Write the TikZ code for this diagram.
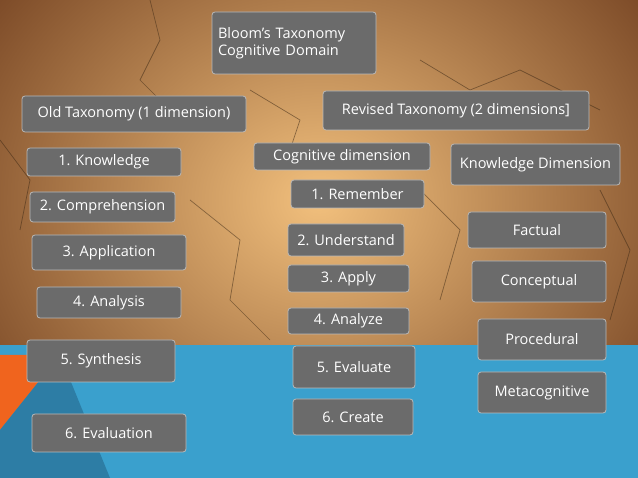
\documentclass[tikz,border=0pt]{standalone}
\usepackage{fontspec}
\setmainfont{Open Sans}
\begin{document}
\begin{tikzpicture}[x=1pt,y=-1pt,
  box/.style={draw=gray!55, line width=0.8pt, fill=black!58, rounded corners=3pt, text=white, font=\fontsize{14.5}{17}\selectfont, inner sep=2pt, align=center},
  crack/.style={draw=black!70!brown, line width=0.7pt, opacity=0.5}]
\definecolor{edge}{RGB}{125,75,40}
\definecolor{mid}{RGB}{242,192,125}
\useasboundingbox (0,0) rectangle (638,478);
% background
\begin{scope}
\clip (0,0) rectangle (638,345);
\shade[inner color=mid, outer color=edge] (-80,-140) rectangle (718,540);
\end{scope}
\fill[color={rgb,255:red,58;green,160;blue,205}] (0,345) rectangle (638,478);
\fill[color={rgb,255:red,240;green,100;blue,30}] (0,355) -- (60,355) -- (0,430) -- cycle;
\fill[color={rgb,255:red,45;green,125;blue,165}] (0,478) -- (0,430) -- (60,355) -- (110,478) -- cycle;
% cracks
\draw[crack] (150,0) -- (160,40) -- (140,80) -- (170,110);
\draw[crack] (250,90) -- (300,120) -- (290,150);
\draw[crack] (420,60) -- (470,90) -- (520,70) -- (600,110);
\draw[crack] (0,140) -- (30,180) -- (20,230);
\draw[crack] (190,200) -- (240,240) -- (230,300) -- (270,340);
\draw[crack] (420,190) -- (460,230) -- (440,300);
\draw[crack] (600,190) -- (630,250) -- (610,320);
% boxes
\node[box, align=left, minimum width=164, minimum height=62, text width=152] (bloom) at (294,43) {Bloom's Taxonomy\\Cognitive Domain};
\node[box, minimum width=224, minimum height=36] (old) at (134,114) {Old Taxonomy (1 dimension)};
\node[box, minimum width=266, minimum height=39] (rev) at (456,110.5) {Revised Taxonomy (2 dimensions]};
\node[box, minimum width=154, minimum height=28] (o1) at (104,162) {1. Knowledge};
\node[box, minimum width=145, minimum height=30] (o2) at (102.5,207) {2. Comprehension};
\node[box, minimum width=154, minimum height=35] (o3) at (109,252.5) {3. Application};
\node[box, minimum width=144, minimum height=31] (o4) at (109,302.5) {4. Analysis};
\node[box, minimum width=148, minimum height=42] (o5) at (101,361) {5. Synthesis};
\node[box, minimum width=154, minimum height=38] (o6) at (109,433) {6. Evaluation};
\node[box, minimum width=176, minimum height=27] (cog) at (342,156.5) {Cognitive dimension};
\node[box, minimum width=169, minimum height=41] (kd) at (535.5,164.5) {Knowledge Dimension};
\node[box, minimum width=133, minimum height=28] (r1) at (357.5,194) {1. Remember};
\node[box, minimum width=116, minimum height=32] (r2) at (346,240) {2. Understand};
\node[box, minimum width=121, minimum height=27] (r3) at (348.5,278.5) {3. Apply};
\node[box, minimum width=121, minimum height=26] (r4) at (348.5,321) {4. Analyze};
\node[box, minimum width=122, minimum height=42] (r5) at (354,367) {5. Evaluate};
\node[box, minimum width=120, minimum height=36] (r6) at (353,417) {6. Create};
\node[box, minimum width=138, minimum height=36] (k1) at (537,230) {Factual};
\node[box, minimum width=134, minimum height=41] (k2) at (539,281.5) {Conceptual};
\node[box, minimum width=128, minimum height=41] (k3) at (542,339.5) {Procedural};
\node[box, minimum width=128, minimum height=41] (k4) at (542,392.5) {Metacognitive};
\end{tikzpicture}
\end{document}
